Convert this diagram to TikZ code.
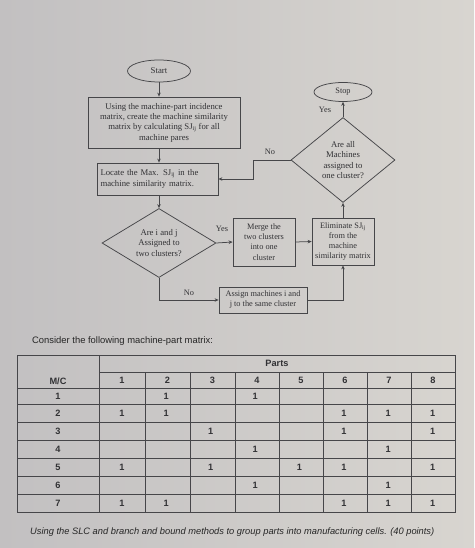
\documentclass[tikz,border=0pt]{standalone}
\usepackage{fontspec}
\setmainfont{Liberation Serif}
\setsansfont{Liberation Sans}
\usetikzlibrary{shapes.geometric,arrows.meta}
\definecolor{bgL}{RGB}{194,192,193}
\definecolor{bgR}{RGB}{216,213,208}
\definecolor{ink}{RGB}{50,50,53}
\definecolor{lin}{RGB}{70,70,73}
\begin{document}
\begin{tikzpicture}[x=1pt,y=-1pt,
 fc/.style={draw=lin, line width=0.75pt, text=ink, font=\fontsize{8.7}{10.3}\selectfont, inner sep=1pt, align=center},
 procbox/.style={fc, rectangle},
 term/.style={fc, ellipse, inner sep=0pt},
 decis/.style={fc, diamond, inner sep=0pt, shape aspect=1.5},
 arr/.style={draw=lin, line width=0.75pt, -{Stealth[length=4pt,width=3.5pt]}},
 lbl/.style={font=\fontsize{8.3}{9}\selectfont, text=ink, inner sep=0pt},
 gridln/.style={draw=lin, line width=0.7pt},
 tb/.style={font=\sffamily\bfseries\fontsize{9.2}{10}\selectfont, text=ink, inner sep=0pt},
 note/.style={font=\sffamily\fontsize{9.4}{11}\selectfont, text=black!85, inner sep=0pt, anchor=west}
]
\useasboundingbox (0,0) rectangle (474,548);
\shade[left color=bgL, right color=bgR] (0,0) rectangle (474,548);

% ---------- flowchart ----------
\node[term, minimum width=63pt, minimum height=22pt, font=\fontsize{8.8}{10}\selectfont] (start) at (159,71) {Start};
\node[procbox, minimum width=152pt, minimum height=51pt] (box1) at (164,122.5)
  {Using the machine-part incidence\\matrix, create the machine similarity\\matrix by calculating SJ\textsubscript{ij} for all\\machine pares};
\node[procbox, minimum width=121pt, minimum height=32pt, text width=114pt, align=left] (box2) at (157.5,179)
  {Locate the Max. SJ\textsubscript{ij} in the\\machine similarity matrix.};
\node[decis, minimum width=114pt, minimum height=69pt] (d1) at (159,243)
  {Are i and j\\Assigned to\\two clusters?};
\node[procbox, minimum width=62pt, minimum height=48pt, font=\fontsize{8.3}{10.3}\selectfont] (merge) at (264,242)
  {Merge the\\two clusters\\into one\\cluster};
\node[procbox, minimum width=62pt, minimum height=47pt, font=\fontsize{8.3}{10.3}\selectfont] (elim) at (343,241.5)
  {Eliminate SJ\textsubscript{ij}\\from the\\machine\\similarity matrix};
\node[decis, minimum width=104pt, minimum height=85pt] (d2) at (343,160)
  {Are all\\Machines\\assigned to\\one cluster?};
\node[term, minimum width=58pt, minimum height=19pt, font=\fontsize{8.3}{10}\selectfont] (stop) at (343,92) {Stop};
\node[procbox, minimum width=88pt, minimum height=26pt, font=\fontsize{8.3}{10}\selectfont] (assign) at (263,300)
  {Assign machines i and\\j to the same cluster};

\coordinate (k1) at (253,160);

\draw[arr] (start.south) -- (start.south |- box1.north);
\draw[arr] (start.south |- box1.south) -- (start.south |- box2.north);
\draw[arr] (start.south |- box2.south) -- (d1.north);
\draw[arr] (d1.east) -- (merge.west);
\draw[arr] (merge.east) -- (elim.west);
\draw[arr] (elim.north) -- (d2.south);
\draw[arr] (d2.north) -- (stop.south);
\draw[arr] (d2.west) -- (k1) |- (box2.east);
\draw[arr] (d1.south) |- (assign.west);
\draw[arr] (assign.east) -| (elim.south);

\node[lbl] (yes1) at (222,229) {Yes};
\node[lbl] (yes2) at (325,110) {Yes};
\node[lbl] (no1) at (270,152) {No};
\node[lbl] (no2) at (189,293) {No};

% ---------- text ----------
\node[note] (consider) at (32,341) {Consider the following machine-part matrix:};
\node[note, font=\sffamily\itshape\fontsize{9.3}{11}\selectfont] (task) at (30,532)
  {Using the SLC and branch and bound methods to group parts into manufacturing cells. (40 points)};

% ---------- table ----------
\draw[gridln] (17,355) rectangle (455,512);
\draw[gridln] (99,355) -- (99,512);
\draw[gridln] (99,372) -- (455,372);
\foreach \y in {388,404,422,440,458,476,494} \draw[gridln] (17,\y) -- (455,\y);
\foreach \x in {145,190,235,279,323,367,411} \draw[gridln] (\x,372) -- (\x,512);

\node[tb] (parts) at (277,363.5) {Parts};
\node[tb] (mc) at (58,381) {M/C};
\foreach \p/\x in {1/122,2/167.5,3/212.5,4/257,5/301,6/345,7/389,8/433}
  \node[tb] (h\p) at (\x,380.5) {\p};
\foreach \r/\y in {1/396,2/413,3/431,4/449,5/467,6/485,7/503}
  \node[tb] (r\r) at (58,\y) {\r};

\foreach \r/\y/\list in {1/396/{2,4},2/413/{1,2,6,7,8},3/431/{3,6,8},4/449/{4,7},5/467/{1,3,5,6,8},6/485/{4,7},7/503/{1,2,6,7,8}}{
  \foreach \p in \list {
    \pgfmathsetmacro{\xx}{77.5+44.4*\p}
    \node[tb] (c\r-\p) at (\xx,\y) {1};
  }
}
\end{tikzpicture}
\end{document}
